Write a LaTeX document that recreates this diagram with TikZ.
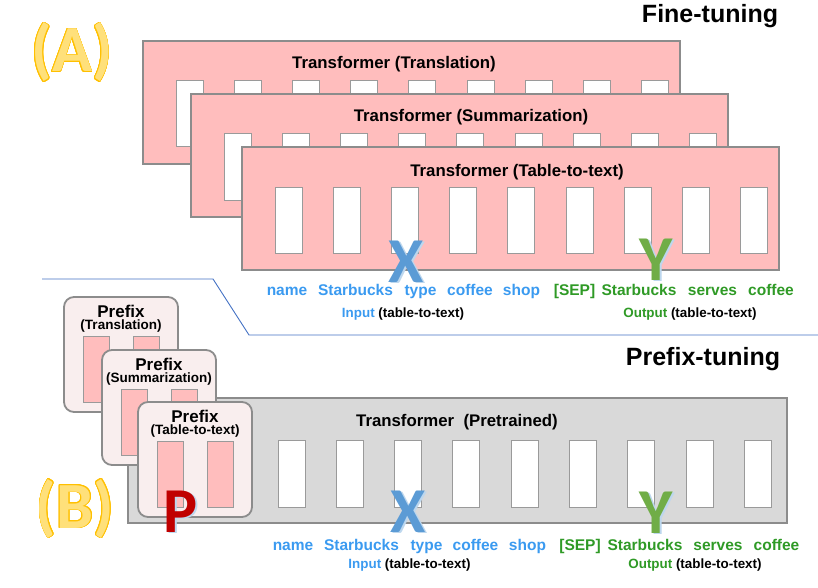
\documentclass[tikz,border=0pt]{standalone}
\usepackage{fontspec}
\setmainfont{Liberation Sans}
\newfontfamily\calib{Carlito}
\usepackage{contour}
\contourlength{0.9pt}
\definecolor{pinkA}{HTML}{FFBDBD}
\definecolor{bordgray}{HTML}{8C8C8C}
\definecolor{slotgray}{HTML}{9A9A9A}
\definecolor{grayfill}{HTML}{D9D9D9}
\definecolor{prefixfill}{HTML}{F9EEEE}
\definecolor{wblue}{HTML}{3A9AF0}
\definecolor{wgreen}{HTML}{2F9A26}
\definecolor{xblue}{HTML}{5B9BD5}
\definecolor{xshadow}{HTML}{BDD7EE}
\definecolor{ygreen}{HTML}{70AD47}
\definecolor{pred}{HTML}{C00000}
\definecolor{sepblue}{HTML}{4472C4}
\definecolor{abfill}{HTML}{FFE07A}
\definecolor{abline}{HTML}{FFC000}
\begin{document}
\begin{tikzpicture}[x=1pt,y=-1pt,
  tbox/.style={draw=bordgray,line width=1.5pt,fill=pinkA},
  slot/.style={draw=slotgray,line width=1pt,fill=white},
  pslot/.style={draw=slotgray,line width=1pt,fill=pinkA},
  pbox/.style={draw=bordgray,line width=1.8pt,fill=prefixfill,rounded corners=10pt},
  ttl/.style={font=\bfseries\fontsize{16.8}{18}\selectfont,anchor=base,inner sep=0pt},
  head/.style={font=\bfseries\fontsize{25}{27}\selectfont,anchor=base,inner sep=0pt},
  wdb/.style={font=\bfseries\fontsize{15.5}{18}\selectfont,anchor=base,inner sep=0pt,text=wblue},
  wdg/.style={font=\bfseries\fontsize{15.5}{18}\selectfont,anchor=base,inner sep=0pt,text=wgreen},
  lbl/.style={font=\bfseries\fontsize{13.4}{15}\selectfont,anchor=base,inner sep=0pt},
  pre/.style={font=\bfseries\fontsize{17}{18}\selectfont,anchor=base,inner sep=0pt},
  presub/.style={font=\bfseries\fontsize{13.5}{15}\selectfont,anchor=base,inner sep=0pt},
  big/.style={font=\calib\bfseries\fontsize{64}{64}\selectfont,anchor=base,inner sep=0pt},
  tag/.style={font=\calib\bfseries\fontsize{66}{66}\selectfont,anchor=base,inner sep=0pt}
]
\useasboundingbox (0,0) rectangle (818,588);

% ---------- (A) fine-tuning ----------
\node[tag] (tagA) at (72,72) {\contour{abline}{\textcolor{abfill}{(A)}}};
\node[head] (ft) at (710,23) {Fine-tuning};

\foreach \bx/\by in {143/41,191/94,242/147}{
  \draw[tbox] (\bx,\by) rectangle ++(537,123);
  \foreach \i in {0,...,8}
    \draw[slot] ({\bx+33+58.2*\i},{\by+40}) rectangle ++(27,66);
}
\node[ttl] (t1) at (394,69) {Transformer (Translation)};
\node[ttl] (t2) at (471,122) {Transformer (Summarization)};
\node[ttl] (t3) at (517,176) {Transformer (Table-to-text)};

\node[big,text=xshadow] (xAs) at (408,283) {X};
\node[big,text=xblue] (xA) at (406,282) {X};
\node[big,text=xshadow] (yAs) at (658,281) {Y};
\node[big,text=ygreen] (yA) at (656,280) {Y};

\node[wdb] (a1) at (287,295) {name};
\node[wdb] (a2) at (355.5,295) {Starbucks};
\node[wdb] (a3) at (420.5,295) {type};
\node[wdb] (a4) at (470,295) {coffee};
\node[wdb] (a5) at (521.5,295) {shop};
\node[wdg] (a6) at (574.5,295) {[SEP]};
\node[wdg] (a7) at (639,295) {Starbucks};
\node[wdg] (a8) at (712.5,295) {serves};
\node[wdg] (a9) at (771,295) {coffee};
\node[lbl] (inA) at (403,317) {\textcolor{wblue}{Input} (table-to-text)};
\node[lbl] (outA) at (690,317) {\textcolor{wgreen}{Output} (table-to-text)};

% ---------- separator ----------
\coordinate (s1) at (42,279);
\coordinate (s2) at (213,279);
\coordinate (s3) at (249,335);
\coordinate (s4) at (818,335);
\draw[sepblue,line width=0.9pt] (s1) -- (s2) -- (s3) -- (s4);

% ---------- (B) prefix-tuning ----------
\node[head] (pt) at (703,365) {Prefix-tuning};

\draw[draw=bordgray,line width=1.5pt,fill=grayfill] (128,398) rectangle (787,523);
\foreach \i in {0,...,8}
  \draw[slot] ({278+58.3*\i},440) rectangle ++(27,67);
\node[ttl] (tp) at (457,426) {Transformer\ \ (Pretrained)};

\foreach \px/\py/\sub/\nm in {64/297/(Translation)/p1,102/350/(Summarization)/p2,138/402/(Table-to-text)/p3}{
  \draw[pbox] (\px,\py) rectangle ++(114,115);
  \draw[pslot] ({\px+19},{\py+39}) rectangle ++(26,66);
  \draw[pslot] ({\px+69},{\py+39}) rectangle ++(26,66);
  \node[pre] (\nm) at ({\px+57},{\py+20}) {Prefix};
  \node[presub] (\nm s) at ({\px+57},{\py+32}) {\sub};
}

\node[tag] (tagB) at (75,528) {\contour{abline}{\textcolor{abfill}{(B)}}};

\node[big,text=xshadow] (pBs) at (183,533) {P};
\node[big,text=pred] (pB) at (181,532) {P};
\node[big,text=xshadow] (xBs) at (410,533) {X};
\node[big,text=xblue] (xB) at (408,532) {X};
\node[big,text=xshadow] (yBs) at (658,534) {Y};
\node[big,text=ygreen] (yB) at (656,533) {Y};

\node[wdb] (b1) at (293,550) {name};
\node[wdb] (b2) at (361.5,550) {Starbucks};
\node[wdb] (b3) at (426.5,550) {type};
\node[wdb] (b4) at (475.5,550) {coffee};
\node[wdb] (b5) at (527.5,550) {shop};
\node[wdg] (b6) at (580,550) {[SEP]};
\node[wdg] (b7) at (645,550) {Starbucks};
\node[wdg] (b8) at (718,550) {serves};
\node[wdg] (b9) at (776.5,550) {coffee};
\node[lbl] (inB) at (409.5,568) {\textcolor{wblue}{Input} (table-to-text)};
\node[lbl] (outB) at (695,568) {\textcolor{wgreen}{Output} (table-to-text)};
\end{tikzpicture}
\end{document}
